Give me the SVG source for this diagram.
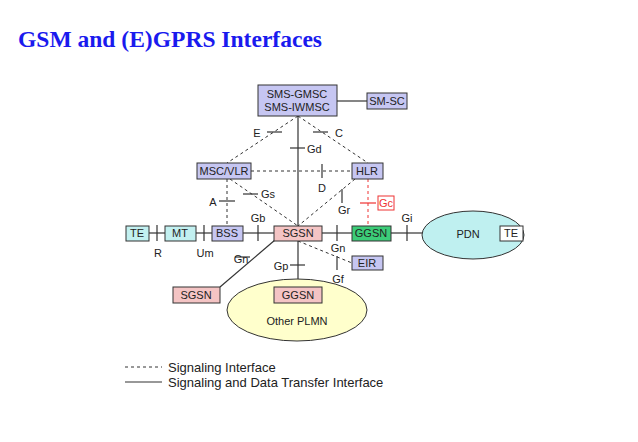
<svg xmlns="http://www.w3.org/2000/svg" width="638" height="442" viewBox="0 0 638 442">
<style>
text{font-family:"Liberation Sans",Arial,sans-serif;font-size:11px;fill:#222}
.b{stroke:#333;stroke-width:1}
.blue{fill:#c6c6f2}.pink{fill:#f4c4c4}.cyan{fill:#c2f0f0}.green{fill:#3ccc78}
.s{stroke:#333;stroke-width:1.2;fill:none}
.d{stroke:#333;stroke-width:1;fill:none;stroke-dasharray:3,3}
.r{stroke:#e33;stroke-width:1;fill:none;stroke-dasharray:3,3}
.m{text-anchor:middle}
</style>
<rect width="638" height="442" fill="#fff"/>
<text x="18" y="47" textLength="304" lengthAdjust="spacingAndGlyphs" style="font-family:'Liberation Serif',serif;font-weight:bold;font-size:24px;fill:#1a1aee">GSM and (E)GPRS Interfaces</text>
<g id="connectors">
<line class="s" x1="298" y1="116" x2="298" y2="226"/>
<line class="s" x1="298" y1="241" x2="298" y2="279"/>
<line class="s" x1="337" y1="101" x2="367" y2="101"/>
<line class="s" x1="149" y1="233" x2="165" y2="233"/>
<line class="s" x1="196" y1="233" x2="212" y2="233"/>
<line class="s" x1="243" y1="233" x2="274" y2="233"/>
<line class="s" x1="322" y1="233" x2="352" y2="233"/>
<line class="s" x1="391" y1="233" x2="423" y2="233"/>
<line class="s" x1="275" y1="240" x2="220" y2="287"/>
<line class="d" x1="298" y1="116" x2="227" y2="163"/>
<line class="d" x1="298" y1="116" x2="368" y2="163"/>
<line class="d" x1="251" y1="171" x2="352" y2="171"/>
<line class="d" x1="227" y1="179" x2="227" y2="226"/>
<line class="d" x1="230" y1="179" x2="298" y2="226"/>
<line class="d" x1="355" y1="179" x2="298" y2="226"/>
<line class="r" x1="368" y1="179" x2="368" y2="226"/>
<line class="d" x1="298" y1="241" x2="352" y2="263"/>
<g class="s">
<line x1="267" y1="132" x2="282" y2="132"/><line x1="313" y1="132" x2="328" y2="132"/>
<line x1="290" y1="148" x2="305" y2="148"/><line x1="322" y1="164" x2="322" y2="178"/>
<line x1="219" y1="201" x2="235" y2="201"/><line x1="243" y1="194" x2="258" y2="194"/>
<line x1="342" y1="189" x2="342" y2="203"/>
<line x1="157" y1="225" x2="157" y2="241"/><line x1="204" y1="225" x2="204" y2="241"/>
<line x1="258" y1="225" x2="258" y2="241"/><line x1="337" y1="225" x2="337" y2="241"/>
<line x1="407" y1="225" x2="407" y2="241"/><line x1="337" y1="256" x2="337" y2="270"/>
<line x1="290" y1="265" x2="305" y2="265"/><line x1="235" y1="257" x2="250" y2="257"/>
</g>
<line x1="360" y1="203" x2="376" y2="203" stroke="#e33" stroke-width="1.2"/>
</g>
<g id="labels">
<text x="257" y="137" class="m">E</text><text x="339" y="137" class="m">C</text>
<text x="307" y="153">Gd</text><text x="322" y="192" class="m">D</text>
<text x="213" y="206" class="m">A</text><text x="261" y="198">Gs</text>
<text x="344" y="214" class="m">Gr</text>
<rect x="378" y="196" width="16" height="14" fill="none" stroke="#e33"/>
<text x="386" y="207" class="m" style="fill:#e33">Gc</text>
<text x="258" y="222" class="m">Gb</text><text x="407" y="222" class="m">Gi</text>
<text x="158" y="257" class="m">R</text><text x="205" y="257" class="m">Um</text>
<text x="338" y="252" class="m">Gn</text><text x="241" y="263" class="m">Gn</text>
<text x="281" y="270" class="m">Gp</text><text x="338" y="283" class="m">Gf</text>
</g>
<g id="plmn"><ellipse cx="297" cy="310" rx="70" ry="31" fill="#ffffcc" stroke="#333"/><text x="297" y="325" class="m">Other PLMN</text></g>
<g id="pdn"><ellipse cx="473" cy="235" rx="51" ry="24" fill="#bff0f0" stroke="#333"/><text x="468" y="238" class="m">PDN</text></g>
<g id="sms"><rect x="258" y="85" width="79" height="31" class="b blue"/><text x="297" y="98" class="m">SMS-GMSC</text><text x="297" y="111" class="m">SMS-IWMSC</text></g>
<g id="smsc"><rect x="367" y="93" width="40" height="16" class="b blue"/><text x="387" y="105" class="m">SM-SC</text></g>
<g id="msc"><rect x="197" y="163" width="54" height="16" class="b blue"/><text x="224" y="175" class="m">MSC/VLR</text></g>
<g id="hlr"><rect x="352" y="163" width="31" height="16" class="b blue"/><text x="367" y="175" class="m">HLR</text></g>
<g id="te1"><rect x="126" y="226" width="23" height="15" class="b cyan"/><text x="137" y="237" class="m">TE</text></g>
<g id="mt"><rect x="165" y="226" width="31" height="15" class="b cyan"/><text x="180" y="237" class="m">MT</text></g>
<g id="bss"><rect x="212" y="226" width="31" height="15" class="b blue"/><text x="227" y="237" class="m">BSS</text></g>
<g id="sgsn"><rect x="274" y="226" width="48" height="15" class="b pink"/><text x="298" y="237" class="m">SGSN</text></g>
<g id="ggsn"><rect x="352" y="226" width="39" height="15" class="b green"/><text x="371" y="237" class="m">GGSN</text></g>
<g id="te2"><rect x="500" y="226" width="23" height="15" class="b" fill="#fff"/><text x="511" y="237" class="m">TE</text></g>
<g id="eir"><rect x="352" y="256" width="31" height="14" class="b blue"/><text x="367" y="267" class="m">EIR</text></g>
<g id="sgsn2"><rect x="173" y="287" width="47" height="16" class="b pink"/><text x="196" y="299" class="m">SGSN</text></g>
<g id="ggsn2"><rect x="274" y="287" width="48" height="16" class="b pink"/><text x="298" y="299" class="m">GGSN</text></g>
<g id="legend">
<line class="d" x1="125" y1="367" x2="162" y2="367"/><text x="168" y="372" style="font-size:13px">Signaling Interface</text>
<line class="s" x1="125" y1="382" x2="162" y2="382"/><text x="168" y="387" style="font-size:13px">Signaling and Data Transfer Interface</text>
</g>
</svg>
